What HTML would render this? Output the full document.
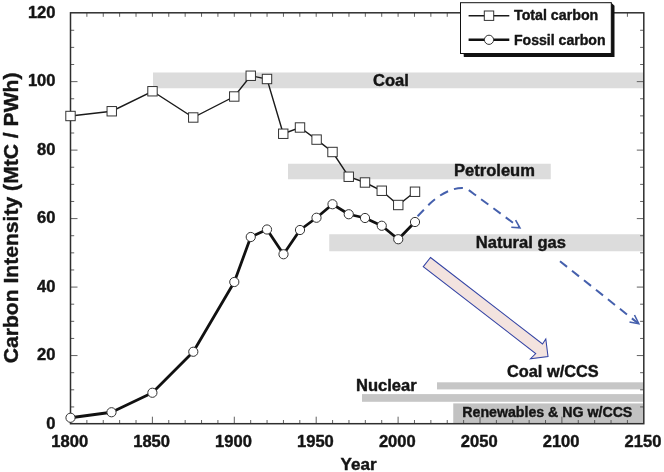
<!DOCTYPE html>
<html lang="en"><head><meta charset="utf-8"><title>Carbon intensity</title>
<style>html,body{margin:0;padding:0;background:#fff}body{width:664px;height:472px;overflow:hidden}svg{display:block}text{font-family:"Liberation Sans",Arial,Helvetica,sans-serif;font-weight:bold;fill:#151515;stroke:#151515;stroke-width:0.4px;stroke-linejoin:round}</style>
</head><body>
<svg width="664" height="472" viewBox="0 0 664 472">
<rect width="664" height="472" fill="#fff"/>
<g>
<rect x="153" y="72.5" width="490.5" height="15.75" fill="#dcdcdc"/>
<rect x="288" y="163.75" width="262.75" height="15.5" fill="#dcdcdc"/>
<rect x="329.25" y="234.25" width="314.25" height="17" fill="#dcdcdc"/>
<rect x="437" y="382.3" width="206.5" height="7.1" fill="#c6c6c6"/>
<rect x="362" y="394.1" width="281.5" height="7.7" fill="#c6c6c6"/>
<rect x="453.25" y="403.4" width="190.25" height="20.3" fill="#c2c2c2"/>
</g>
<g stroke="#505050" stroke-width="0.9" fill="none">
<path d="M86.88 423.7v-3.7M86.88 12.8v4M103.26 423.7v-3.7M103.26 12.8v4M119.64 423.7v-3.7M119.64 12.8v4M136.02 423.7v-3.7M136.02 12.8v4M152.40 423.7v-7M152.40 12.8v4M168.78 423.7v-3.7M168.78 12.8v4M185.16 423.7v-3.7M185.16 12.8v4M201.54 423.7v-3.7M201.54 12.8v4M217.92 423.7v-3.7M217.92 12.8v4M234.30 423.7v-7M234.30 12.8v4M250.68 423.7v-3.7M250.68 12.8v4M267.06 423.7v-3.7M267.06 12.8v4M283.44 423.7v-3.7M283.44 12.8v4M299.82 423.7v-3.7M299.82 12.8v4M316.20 423.7v-7M316.20 12.8v4M332.58 423.7v-3.7M332.58 12.8v4M348.96 423.7v-3.7M348.96 12.8v4M365.34 423.7v-3.7M365.34 12.8v4M381.72 423.7v-3.7M381.72 12.8v4M398.10 423.7v-7M398.10 12.8v4M414.48 423.7v-3.7M414.48 12.8v4M430.86 423.7v-3.7M430.86 12.8v4M447.24 423.7v-3.7M447.24 12.8v4M463.62 423.7v-3.7M463.62 12.8v4M480.00 423.7v-7M480.00 12.8v4M496.38 423.7v-3.7M496.38 12.8v4M512.76 423.7v-3.7M512.76 12.8v4M529.14 423.7v-3.7M529.14 12.8v4M545.52 423.7v-3.7M545.52 12.8v4M561.90 423.7v-7M561.90 12.8v4M578.28 423.7v-3.7M578.28 12.8v4M594.66 423.7v-3.7M594.66 12.8v4M611.04 423.7v-3.7M611.04 12.8v4M627.42 423.7v-3.7M627.42 12.8v4M70.5 406.93h3.7M643.8 406.93h-3.7M70.5 389.81h3.7M643.8 389.81h-3.7M70.5 372.69h3.7M643.8 372.69h-3.7M70.5 355.57h7M643.8 355.57h-7M70.5 338.45h3.7M643.8 338.45h-3.7M70.5 321.33h3.7M643.8 321.33h-3.7M70.5 304.20h3.7M643.8 304.20h-3.7M70.5 287.08h7M643.8 287.08h-7M70.5 269.96h3.7M643.8 269.96h-3.7M70.5 252.84h3.7M643.8 252.84h-3.7M70.5 235.72h3.7M643.8 235.72h-3.7M70.5 218.60h7M643.8 218.60h-7M70.5 201.48h3.7M643.8 201.48h-3.7M70.5 184.36h3.7M643.8 184.36h-3.7M70.5 167.24h3.7M643.8 167.24h-3.7M70.5 150.12h7M643.8 150.12h-7M70.5 133.00h3.7M643.8 133.00h-3.7M70.5 115.87h3.7M643.8 115.87h-3.7M70.5 98.75h3.7M643.8 98.75h-3.7M70.5 81.63h7M643.8 81.63h-7M70.5 64.51h3.7M643.8 64.51h-3.7M70.5 47.39h3.7M643.8 47.39h-3.7M70.5 30.27h3.7M643.8 30.27h-3.7"/>
</g>
<rect x="70.5" y="12.8" width="573.3" height="410.9" fill="none" stroke="#2e2e2e" stroke-width="1.5"/>
<g font-size="16">
<text transform="translate(55.50,428.90) scale(1.062,1)" font-size="15.60" text-anchor="end">0</text>
<text transform="translate(55.50,360.42) scale(1.062,1)" font-size="15.60" text-anchor="end">20</text>
<text transform="translate(55.50,291.93) scale(1.062,1)" font-size="15.60" text-anchor="end">40</text>
<text transform="translate(55.50,223.45) scale(1.062,1)" font-size="15.60" text-anchor="end">60</text>
<text transform="translate(55.50,154.97) scale(1.062,1)" font-size="15.60" text-anchor="end">80</text>
<text transform="translate(55.50,86.48) scale(1.062,1)" font-size="15.60" text-anchor="end">100</text>
<text transform="translate(55.50,18.00) scale(1.062,1)" font-size="15.60" text-anchor="end">120</text>
<text transform="translate(69.70,446.60) scale(1.062,1)" font-size="15.60" text-anchor="middle">1800</text>
<text transform="translate(151.60,446.60) scale(1.062,1)" font-size="15.60" text-anchor="middle">1850</text>
<text transform="translate(233.50,446.60) scale(1.062,1)" font-size="15.60" text-anchor="middle">1900</text>
<text transform="translate(315.40,446.60) scale(1.062,1)" font-size="15.60" text-anchor="middle">1950</text>
<text transform="translate(397.30,446.60) scale(1.062,1)" font-size="15.60" text-anchor="middle">2000</text>
<text transform="translate(479.20,446.60) scale(1.062,1)" font-size="15.60" text-anchor="middle">2050</text>
<text transform="translate(561.10,446.60) scale(1.062,1)" font-size="15.60" text-anchor="middle">2100</text>
<text transform="translate(643.00,446.60) scale(1.062,1)" font-size="15.60" text-anchor="middle">2150</text>
</g>
<text transform="translate(358.50,469.50) scale(1.062,1)" font-size="16.09" text-anchor="middle">Year</text>
<text transform="translate(17.6,217.9) rotate(-90) scale(1.006,1)" font-size="21" text-anchor="middle">Carbon Intensity (MtC / PWh)</text>
<g font-size="16">
<text transform="translate(373.00,86.00) scale(1.062,1)" font-size="15.60">Coal</text>
<text transform="translate(454.00,175.80) scale(1.062,1)" font-size="15.60">Petroleum</text>
<text transform="translate(475.80,247.50) scale(1.062,1)" font-size="15.60">Natural gas</text>
<text transform="translate(507.00,377.00) scale(1.047,1)" font-size="15.60">Coal w/CCS</text>
<text transform="translate(356.00,391.30) scale(1.062,1)" font-size="15.60">Nuclear</text>
</g>
<text transform="translate(462.30,416.60) scale(1.017,1)" font-size="13.94">Renewables &amp; NG w/CCS</text>
<g fill="none" stroke="#4560ad" stroke-width="2">
<path d="M417.6 216.2L430 203.5C440 194 452 188 462 188C467 188 470.5 191.4 475.1 194.8L519.5 227.5" stroke-dasharray="9 6.3"/>
<path d="M511.3 227.2L519.9 227.9L515.6 220.1" stroke-width="1.6"/>
<path d="M560 261.25L638 323.2" stroke-dasharray="9 6.3"/>
<path d="M629.5 322L638.75 323.75L634.5 315" stroke-width="1.6"/>
</g>
<path d="M430.5 257.5L542.5 344L545.8 338.9L548 356.5L530.5 358.7L535.7 353.5L423.25 266.75Z" fill="#f3e3df" stroke="#3343a4" stroke-width="1.05"/>
<polyline points="70.5,116 111.75,111.25 152.5,91.25 193.25,117.5 234.25,96.5 250.75,75.75 267,79 283.25,133.75 300,127.5 316.6,139.6 332.5,152 348.75,176.75 365,182.5 381.75,190.75 398.25,205 415,191.75" fill="none" stroke="#1a1a1a" stroke-width="1.4"/>
<g fill="#fff" stroke="#333" stroke-width="1">
<rect x="65.80" y="111.30" width="9.4" height="9.4"/>
<rect x="107.05" y="106.55" width="9.4" height="9.4"/>
<rect x="147.80" y="86.55" width="9.4" height="9.4"/>
<rect x="188.55" y="112.80" width="9.4" height="9.4"/>
<rect x="229.55" y="91.80" width="9.4" height="9.4"/>
<rect x="246.05" y="71.05" width="9.4" height="9.4"/>
<rect x="262.30" y="74.30" width="9.4" height="9.4"/>
<rect x="278.55" y="129.05" width="9.4" height="9.4"/>
<rect x="295.30" y="122.80" width="9.4" height="9.4"/>
<rect x="311.90" y="134.90" width="9.4" height="9.4"/>
<rect x="327.80" y="147.30" width="9.4" height="9.4"/>
<rect x="344.05" y="172.05" width="9.4" height="9.4"/>
<rect x="360.30" y="177.80" width="9.4" height="9.4"/>
<rect x="377.05" y="186.05" width="9.4" height="9.4"/>
<rect x="393.55" y="200.30" width="9.4" height="9.4"/>
<rect x="410.30" y="187.05" width="9.4" height="9.4"/>
</g>
<polyline points="70.5,417.75 111.5,412.25 152.4,392.75 193.3,351.75 234.3,282 250.75,237 267,229.5 283.5,254.25 300,230 316.5,217.75 332.5,204.25 348.75,214.25 365,218 381.75,225.75 398.25,239.25 415,222" fill="none" stroke="#111" stroke-width="2.8" stroke-linejoin="round"/>
<g fill="#fff" stroke="#333" stroke-width="1">
<circle cx="70.5" cy="417.75" r="4.6"/>
<circle cx="111.5" cy="412.25" r="4.6"/>
<circle cx="152.4" cy="392.75" r="4.6"/>
<circle cx="193.3" cy="351.75" r="4.6"/>
<circle cx="234.3" cy="282" r="4.6"/>
<circle cx="250.75" cy="237" r="4.6"/>
<circle cx="267" cy="229.5" r="4.6"/>
<circle cx="283.5" cy="254.25" r="4.6"/>
<circle cx="300" cy="230" r="4.6"/>
<circle cx="316.5" cy="217.75" r="4.6"/>
<circle cx="332.5" cy="204.25" r="4.6"/>
<circle cx="348.75" cy="214.25" r="4.6"/>
<circle cx="365" cy="218" r="4.6"/>
<circle cx="381.75" cy="225.75" r="4.6"/>
<circle cx="398.25" cy="239.25" r="4.6"/>
<circle cx="415" cy="222" r="4.6"/>
</g>
<g>
<path d="M460.5 6L463.8 57H614.5V5.7L611.3 2.7Z" fill="#111"/>
<rect x="460.5" y="2.7" width="150.8" height="50.8" fill="#fff" stroke="#111" stroke-width="1"/>
<path d="M468.6 15.7H509.3" stroke="#1a1a1a" stroke-width="1.4"/>
<rect x="484.3" y="11" width="9.4" height="9.4" fill="#fff" stroke="#333" stroke-width="1"/>
<path d="M468.6 39.8H509.3" stroke="#111" stroke-width="2.6"/>
<circle cx="489" cy="39.8" r="4.6" fill="#fff" stroke="#333" stroke-width="1"/>
<text transform="translate(514.00,19.90) scale(1.0,1)" font-size="14.23">Total carbon</text>
<text transform="translate(514.00,44.70) scale(0.99,1)" font-size="14.23">Fossil carbon</text>
</g>
</svg>
</body></html>
